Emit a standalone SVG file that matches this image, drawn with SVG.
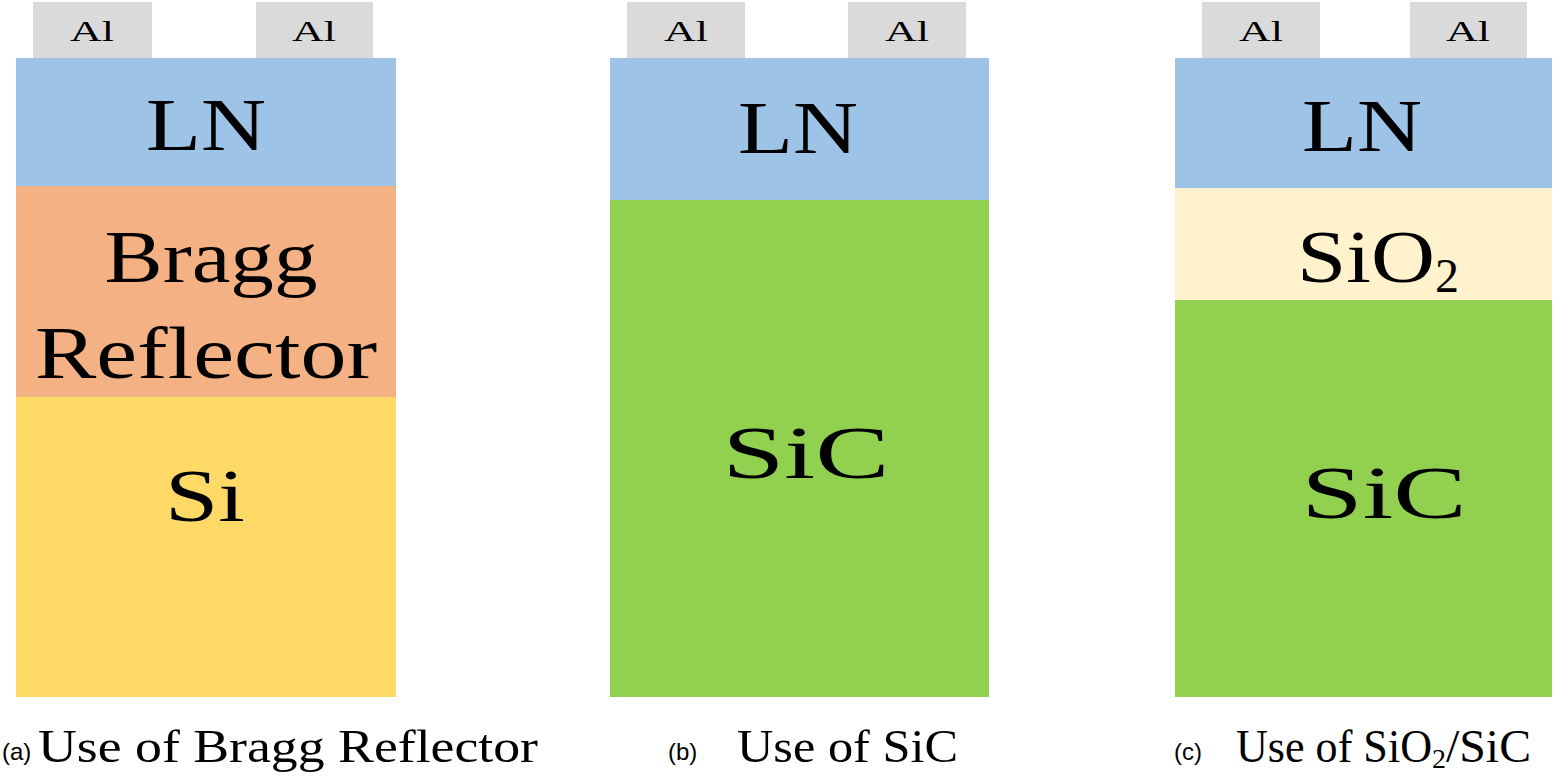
<svg xmlns="http://www.w3.org/2000/svg" width="1568" height="776" viewBox="0 0 1568 776">
<style>
.al{fill:#DADADA}.ln{fill:#9DC3E6}.br{fill:#F4B183}.si{fill:#FFD966}.sic{fill:#92D050}.ox{fill:#FFF2CC}
text{font-family:"Liberation Serif","Times New Roman","DejaVu Serif",serif;fill:#000}
.t{text-anchor:middle}
.alt{font-size:30px}.big{font-size:74px}
.cap{font-size:46px}
.lab{font-family:"Liberation Sans",Arial,sans-serif;font-size:24px}
</style>
<rect width="1568" height="776" fill="#fff"/>
<g id="panel-a">
<rect class="al" x="33" y="2" width="119" height="56"/><rect class="al" x="256" y="2" width="117" height="56"/>
<text class="t alt" x="92" y="41" textLength="44" lengthAdjust="spacingAndGlyphs">Al</text><text class="t alt" x="314" y="41" textLength="44" lengthAdjust="spacingAndGlyphs">Al</text>
<rect class="ln" x="16" y="58" width="380" height="128"/>
<rect class="br" x="16" y="186" width="380" height="211"/>
<rect class="si" x="16" y="397" width="380" height="300"/>
<text class="t big" x="206" y="150" textLength="120" lengthAdjust="spacingAndGlyphs">LN</text>
<text class="t big" x="211" y="282" textLength="213" lengthAdjust="spacingAndGlyphs">Bragg</text>
<text class="t big" x="206" y="378" textLength="342" lengthAdjust="spacingAndGlyphs">Reflector</text>
<text class="t big" x="205" y="521" textLength="80" lengthAdjust="spacingAndGlyphs">Si</text>
</g>
<g id="panel-b">
<rect class="al" x="627" y="2" width="118" height="56"/><rect class="al" x="848" y="2" width="118" height="56"/>
<text class="t alt" x="686" y="41" textLength="44" lengthAdjust="spacingAndGlyphs">Al</text><text class="t alt" x="907" y="41" textLength="44" lengthAdjust="spacingAndGlyphs">Al</text>
<rect class="ln" x="610" y="58" width="379" height="142"/>
<rect class="sic" x="610" y="200" width="379" height="497"/>
<text class="t big" x="798" y="153" textLength="120" lengthAdjust="spacingAndGlyphs">LN</text>
<text class="t big" x="806" y="478" textLength="167" lengthAdjust="spacingAndGlyphs">SiC</text>
</g>
<g id="panel-c">
<rect class="al" x="1202" y="2" width="118" height="56"/><rect class="al" x="1410" y="2" width="117" height="56"/>
<text class="t alt" x="1261" y="41" textLength="44" lengthAdjust="spacingAndGlyphs">Al</text><text class="t alt" x="1468" y="41" textLength="44" lengthAdjust="spacingAndGlyphs">Al</text>
<rect class="ln" x="1175" y="58" width="377" height="130"/>
<rect class="ox" x="1175" y="188" width="377" height="112"/>
<rect class="sic" x="1175" y="300" width="377" height="397"/>
<text class="t big" x="1362" y="151" textLength="120" lengthAdjust="spacingAndGlyphs">LN</text>
<text class="big" x="1297" y="282"><tspan textLength="138" lengthAdjust="spacingAndGlyphs">SiO</tspan><tspan font-size="48" dy="10">2</tspan></text>
<text class="t big" x="1384" y="518" textLength="165" lengthAdjust="spacingAndGlyphs">SiC</text>
</g>
<g id="captions">
<text class="lab" x="2" y="760">(a)</text><text class="cap" x="38" y="762" textLength="500" lengthAdjust="spacingAndGlyphs">Use of Bragg Reflector</text>
<text class="lab" x="668" y="760">(b)</text><text class="cap" x="737" y="762" textLength="221" lengthAdjust="spacingAndGlyphs">Use of SiC</text>
<text class="lab" x="1174" y="760">(c)</text><text class="cap" x="1236" y="762"><tspan textLength="196" lengthAdjust="spacingAndGlyphs">Use of SiO</tspan><tspan font-size="28" dy="6">2</tspan><tspan dy="-6" textLength="85" lengthAdjust="spacingAndGlyphs">/SiC</tspan></text>
</g>
</svg>
